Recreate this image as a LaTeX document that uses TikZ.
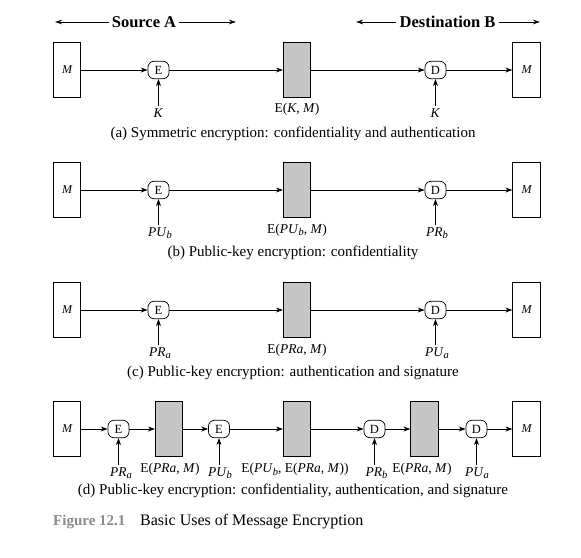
\documentclass[tikz,border=0pt]{standalone}
\usepackage{fontspec}
\setmainfont{Liberation Serif}
\usetikzlibrary{arrows.meta}
\definecolor{boxgray}{HTML}{C6C6C6}
\definecolor{figgray}{HTML}{8A8A8A}
\newcommand\kk[2]{\textit{#1}\raisebox{-0.45ex}{\fontsize{10.5}{10.5}\selectfont\itshape #2}}
\begin{document}
\begin{tikzpicture}[x=1pt,y=-1pt,
  msg/.style={draw, line width=0.7pt, minimum width=27.5pt, minimum height=55pt, inner sep=0pt, font=\fontsize{12}{12}\selectfont\itshape},
  cbox/.style={draw, fill=boxgray, line width=0.7pt, minimum width=27.5pt, minimum height=55pt, inner sep=0pt},
  op/.style={draw, rounded corners=6pt, minimum width=21pt, minimum height=17.5pt, inner sep=0pt, line width=0.7pt, font=\fontsize{12.5}{12.5}\selectfont},
  boxlbl/.style={anchor=base, inner sep=0pt, font=\fontsize{13.5}{14}\selectfont},
  keylbl/.style={anchor=base, inner sep=0pt, font=\fontsize{13.5}{14}\selectfont},
  captxt/.style={font=\fontsize{15}{16}\selectfont, inner sep=0pt},
  hdr/.style={font=\fontsize{16.5}{17}\selectfont\bfseries, inner sep=3pt},
  arr/.style={-{Stealth[length=7pt,width=5pt]}, line width=0.9pt},
  harr/.style={-{Stealth[length=7pt,width=4.5pt]}, line width=0.6pt},
  keyarr/.style={-{Stealth[length=7pt,width=5pt]}, line width=0.9pt, shorten <=2pt},
]
\useasboundingbox (0,0) rectangle (581,557);

% ---------- headers
\node[hdr] (src) at (144,22) {Source A};
\coordinate (srcL) at (55,22);
\coordinate (srcR) at (236,22);
\draw[harr] (src) -- (srcL);
\draw[harr] (src) -- (srcR);
\node[hdr] (dst) at (447.5,22) {Destination B};
\coordinate (dstL) at (356,22);
\coordinate (dstR) at (540,22);
\draw[harr] (dst) -- (dstL);
\draw[harr] (dst) -- (dstR);

% ---------- (a)
\node[msg]  (am1) at (67,70) {M};
\node[op]   (ae)  at (158.5,70) {E};
\node[cbox] (ag)  at (297,70) {};
\node[op]   (ad)  at (435.5,70) {D};
\node[msg]  (am2) at (526.5,70) {M};
\node[keylbl] (ak1) at (158.5,117) {\textit{K}};
\node[boxlbl] (agl) at (297,112.5) {E(\textit{K}, \textit{M})};
\node[keylbl] (ak2) at (435.5,117) {\textit{K}};
\draw[arr] (am1) -- (ae);
\draw[arr] (ae) -- (ag);
\draw[arr] (ag) -- (ad);
\draw[arr] (ad) -- (am2);
\draw[keyarr] (ae |- ak1.north) -- (ae.south);
\draw[keyarr] (ad |- ak2.north) -- (ad.south);
\node[captxt] (acap) at (293,134) {(a) Symmetric encryption: confidentiality and authentication};

% ---------- (b)
\node[msg]  (bm1) at (67,190) {M};
\node[op]   (be)  at (158.5,190) {E};
\node[cbox] (bg)  at (297,190) {};
\node[op]   (bd)  at (435.5,190) {D};
\node[msg]  (bm2) at (526.5,190) {M};
\node[keylbl] (bk1) at (160,236) {\kk{PU}{b}};
\node[boxlbl] (bgl) at (297,233) {E(\kk{PU}{b}, \textit{M})};
\node[keylbl] (bk2) at (437,236) {\kk{PR}{b}};
\draw[arr] (bm1) -- (be);
\draw[arr] (be) -- (bg);
\draw[arr] (bg) -- (bd);
\draw[arr] (bd) -- (bm2);
\draw[keyarr] (be |- bk1.north) -- (be.south);
\draw[keyarr] (bd |- bk2.north) -- (bd.south);
\node[captxt] (bcap) at (293,253) {(b) Public-key encryption: confidentiality};

% ---------- (c)
\node[msg]  (cm1) at (67,310) {M};
\node[op]   (ce)  at (158.5,310) {E};
\node[cbox] (cg)  at (297,310) {};
\node[op]   (cd)  at (435.5,310) {D};
\node[msg]  (cm2) at (526.5,310) {M};
\node[keylbl] (ck1) at (160,356) {\kk{PR}{a}};
\node[boxlbl] (cgl) at (297,353) {E(\textit{PRa}, \textit{M})};
\node[keylbl] (ck2) at (437,356) {\kk{PU}{a}};
\draw[arr] (cm1) -- (ce);
\draw[arr] (ce) -- (cg);
\draw[arr] (cg) -- (cd);
\draw[arr] (cd) -- (cm2);
\draw[keyarr] (ce |- ck1.north) -- (ce.south);
\draw[keyarr] (cd |- ck2.north) -- (cd.south);
\node[captxt] (ccap) at (293,373) {(c) Public-key encryption: authentication and signature};

% ---------- (d)
\node[msg]  (dm1) at (67,429) {M};
\node[op]   (de1) at (118.5,429) {E};
\node[cbox] (dg1) at (169,429) {};
\node[op]   (de2) at (219,429) {E};
\node[cbox] (dg2) at (297,429) {};
\node[op]   (dd1) at (374.5,429) {D};
\node[cbox] (dg3) at (424.5,429) {};
\node[op]   (dd2) at (476.5,429) {D};
\node[msg]  (dm2) at (526.5,429) {M};
\node[keylbl] (dk1) at (121,476) {\kk{PR}{a}};
\node[boxlbl] (dl1) at (170,472.5) {E(\textit{PRa}, \textit{M})};
\node[keylbl] (dk2) at (220,476) {\kk{PU}{b}};
\node[boxlbl] (dl2) at (295,472.5) {E(\kk{PU}{b}, E(\textit{PRa}, \textit{M}))};
\node[keylbl] (dk3) at (376.5,476) {\kk{PR}{b}};
\node[boxlbl] (dl3) at (422,472.5) {E(\textit{PRa}, \textit{M})};
\node[keylbl] (dk4) at (477,476) {\kk{PU}{a}};
\draw[arr] (dm1) -- (de1);
\draw[arr] (de1) -- (dg1);
\draw[arr] (dg1) -- (de2);
\draw[arr] (de2) -- (dg2);
\draw[arr] (dg2) -- (dd1);
\draw[arr] (dd1) -- (dg3);
\draw[arr] (dg3) -- (dd2);
\draw[arr] (dd2) -- (dm2);
\draw[keyarr] (de1 |- dk1.north) -- (de1.south);
\draw[keyarr] (de2 |- dk2.north) -- (de2.south);
\draw[keyarr] (dd1 |- dk3.north) -- (dd1.south);
\draw[keyarr] (dd2 |- dk4.north) -- (dd2.south);
\node[captxt] (dcap) at (293,491) {(d) Public-key encryption: confidentiality, authentication, and signature};

% ---------- figure caption
\node[anchor=base west, inner sep=0pt, font=\fontsize{15}{16}\selectfont\bfseries, text=figgray] (fignum) at (53,525) {Figure 12.1};
\node[anchor=base west, inner sep=0pt, font=\fontsize{16}{17}\selectfont] (figtxt) at (140,525) {Basic Uses of Message Encryption};
\end{tikzpicture}
\end{document}
